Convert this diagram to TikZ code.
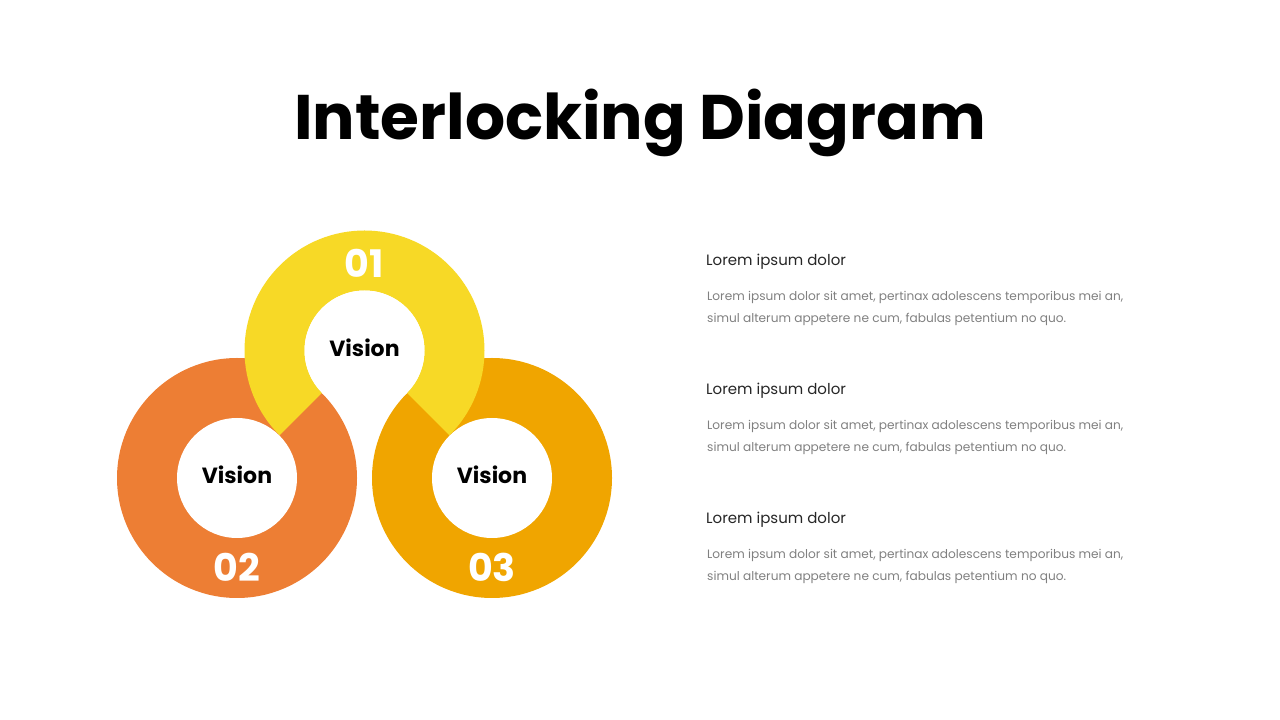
\documentclass[tikz,border=0pt]{standalone}
\usepackage{fontspec}
\setmainfont{Poppins}

\definecolor{ringyellow}{RGB}{247,217,38}
\definecolor{ringorange}{RGB}{237,126,52}
\definecolor{ringgold}{RGB}{240,165,0}
\definecolor{textgrey}{RGB}{128,128,128}

\tikzset{
	vision/.style={circle, fill=white, minimum size=120pt, inner sep=0pt, text depth=6pt, font=\fontsize{22}{26}\selectfont\bfseries},
	num/.style={text=white, inner sep=0pt, font=\fontsize{38}{40}\selectfont\bfseries},
	head/.style={anchor=west, inner sep=0pt, text=black!85, font=\fontsize{15}{18}\selectfont},
	body/.style={anchor=west, inner sep=0pt, align=left, text=textgrey, font=\fontsize{12.15}{22}\selectfont}
}

\begin{document}
\begin{tikzpicture}[x=1pt,y=1pt]
	\useasboundingbox (0,0) rectangle (1280,720);
	
	\node[font=\fontsize{63}{66}\selectfont\bfseries] (title) at (640,597) {Interlocking Diagram};
	
	\coordinate (c1) at (364.5,369.5);
	\coordinate (c2) at (237,242);
	\coordinate (c3) at (492,242);
	
	\fill[ringorange] (c2) circle (120);
	\fill[ringgold] (c3) circle (120);
	\fill[ringyellow] (c1) ++(-45:120) arc[start angle=-45, end angle=225, radius=120]
		-- ++(45:60) arc[start angle=225, end angle=-45, radius=60] -- cycle;
	
	\foreach \i in {1,2,3}
	\node[vision] (v\i) at (c\i) {Vision};
	
	\node[num] (n1) at (364.5,457) {01};
	\node[num] (n2) at (237,153) {02};
	\node[num] (n3) at (492,153) {03};
	
	\foreach \i/\y in {1/458, 2/329, 3/200} {
		\node[head] (h\i) at (706,\y) {Lorem ipsum dolor};
		\node[body] (b\i) at (707,\y-46) {Lorem ipsum dolor sit amet, pertinax adolescens temporibus mei an,\\simul alterum appetere ne cum, fabulas petentium no quo.};
	}
\end{tikzpicture}
\end{document}
